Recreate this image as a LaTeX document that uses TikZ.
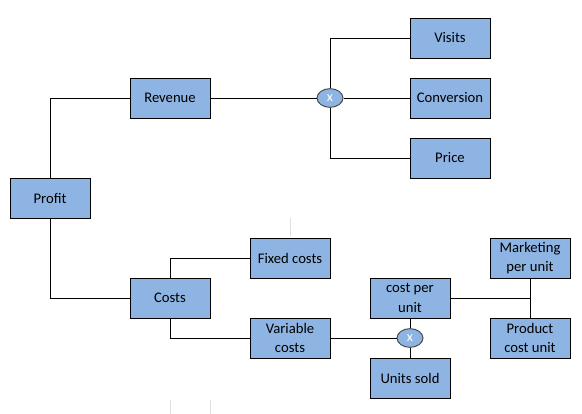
\documentclass[tikz,border=0pt]{standalone}
\usepackage{fontspec}
\setmainfont{Carlito}
\usetikzlibrary{shapes.geometric,calc}
\definecolor{boxblue}{RGB}{141,180,226}
\tikzset {box/.style={draw,fill=boxblue,minimum width=60pt,minimum height=30pt,inner sep=0pt,align=center,font=\fontsize{11}{14.5}\selectfont},
  mult/.style={ellipse,draw=black!70,fill=boxblue,minimum width=19.5pt,minimum height=14pt,inner sep=0pt,text=white,font=\fontsize{10.5}{11}\selectfont}}

\begin{document}
\begin{tikzpicture}[x=.75pt,y=-.75pt,line width=.75pt]
\useasboundingbox (0,0) rectangle (582,414);
\node[box] (Profit) at (50,198) {Profit};
\node[box] (Revenue) at (170,98) {Revenue};
\node[box] (Costs) at (170,298) {Costs};
\node[mult] (X1) at (330,98) {x};
\node[box] (Visits) at (450,38) {Visits};
\node[box] (Conversion) at (450,98) {Conversion};
\node[box] (Price) at (450,158) {Price};
\node[box] (Fixed) at (290,258) {Fixed costs};
\node[box] (Variable) at (290,338) {Variable\\costs};
\node[mult] (X2) at (410,338) {x};
\node[box] (CPU) at (410,298) {cost per\\unit};
\node[box] (Units) at (410,378) {Units sold};
\node[box] (Marketing) at (530,258) {Marketing\\per unit};
\node[box] (Product) at (530,338) {Product\\cost unit};
% connectors
\draw (Profit.north) |- (Revenue.west);
\draw (Profit.south) |- (Costs.west);
\draw (Revenue) -- (X1);
\draw (X1.north) |- (Visits.west);
\draw (X1) -- (Conversion);
\draw (X1.south) |- (Price.west);
\draw (Costs.north) |- (Fixed.west);
\draw (Costs.south) |- (Variable.west);
\draw (Variable) -- (X2);
\draw (X2) -- (CPU);
\draw (X2) -- (Units);
\draw (Marketing) -- (Product);
\draw (CPU.east) -- (CPU.east -| Marketing.south);
% faint guide marks
\draw[black!12] (290,218) -- (290,236);
\draw[black!12] (170,400) -- (170,414);
\draw[black!12] (210,400) -- (210,414);
\end{tikzpicture}
\end{document}
